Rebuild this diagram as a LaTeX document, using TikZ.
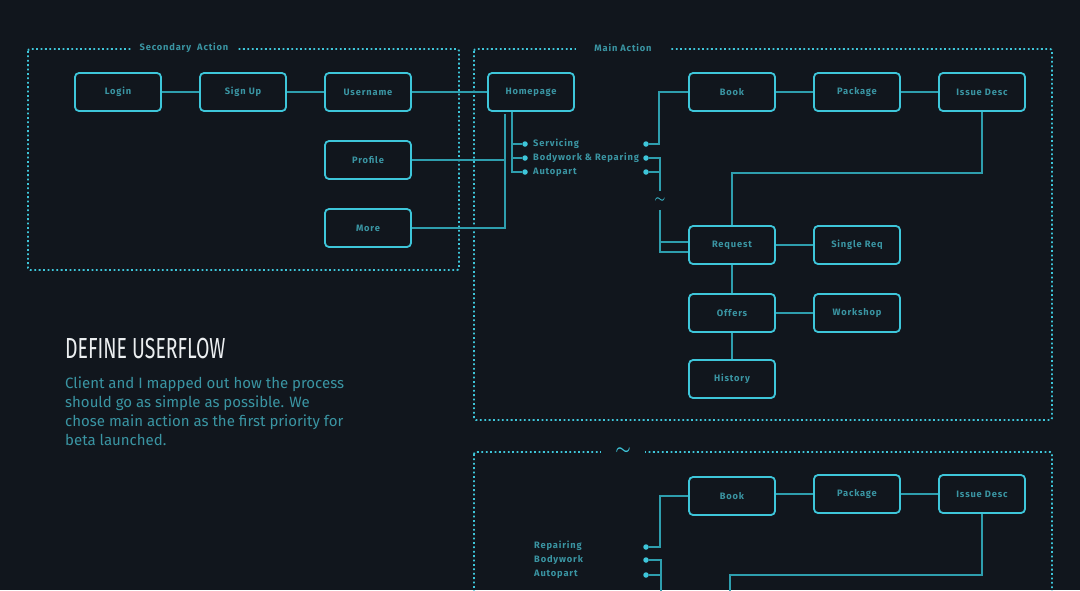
\documentclass[tikz,border=0pt]{standalone}
\usepackage{amsmath}
\usepackage{fontspec}
\setmainfont{Fira Sans}
\newfontfamily\boxfont[LetterSpace=9]{Fira Sans}
\usetikzlibrary{calc}
\definecolor{bg}{HTML}{11161D}
\definecolor{boxcyan}{HTML}{3EC6DA}
\definecolor{wire}{HTML}{2E9EAE}
\definecolor{dimteal}{HTML}{3A95A3}
\definecolor{paper}{HTML}{ECEFF1}
\newcommand{\boxtext}{\boxfont\bfseries\fontsize{9.3}{10}\selectfont}

\begin{document}
\begin{tikzpicture}
	[x=1pt,y=-1pt,
	 screen/.style={draw=boxcyan,line width=1.8pt,rounded corners=4pt,
		minimum width=86pt,minimum height=38pt,text=dimteal,font=\boxtext},
	 link/.style={wire,line width=1.3pt},
	 frame/.style={boxcyan,line width=1.8pt,dash pattern=on 1.8pt off 2.6pt,rounded corners=2pt},
	 framelabel/.style={fill=bg,text=dimteal,inner xsep=9pt,font=\boxtext},
	 knob/.style={circle,fill=boxcyan,inner sep=0pt,minimum size=5.5pt},
	 choice/.style={anchor=west,inner sep=0pt,text=dimteal,font=\boxtext}]
	\fill[bg] (0,0) rectangle (1080,590);
	\clip (0,0) rectangle (1080,590);

	% dotted frames
	\draw[frame] (28,49) rectangle (459,270);
	\node[framelabel] (secondary) at (184,48) {Secondary\ \ Action};
	\draw[frame] (474,49) rectangle (1052,420);
	\node[framelabel,inner xsep=18pt] (mainact) at (623,48) {Main Action};
	\draw[frame] (474,452) rectangle (1052,640);
	\node[framelabel,text=boxcyan,font=\LARGE,inner xsep=14pt] (cont) at (623,451) {$\boldsymbol{\sim}$};

	%
	% secondary action
	%
	\node[screen] (login) at (118,92) {Login};
	\node[screen] (signup) at (243,92) {Sign Up};
	\node[screen] (username) at (368,92) {Username};
	\node[screen] (profile) at (368,160) {Profile};
	\node[screen] (more) at (368,228) {More};

	\draw[link] (login) -- (signup);
	\draw[link] (signup) -- (username);

	%
	% main action
	%
	\node[screen] (home) at (531,92) {Homepage};
	\node[screen] (book) at (732,92) {Book};
	\node[screen] (package) at (857,92) {Package};
	\node[screen] (issue) at (982,92) {Issue Desc};
	\node[screen] (request) at (732,245) {Request};
	\node[screen] (single) at (857,245) {Single Req};
	\node[screen] (offers) at (732,313) {Offers};
	\node[screen] (workshop) at (857,313) {Workshop};
	\node[screen] (history) at (732,379) {History};

	% services list
	\node[knob] (s1) at (525,144) {};
	\node[knob] (s2) at (525,158) {};
	\node[knob] (s3) at (525,172) {};
	\node[choice] (servicing) at (533,144) {Servicing};
	\node[choice] (bodywork) at (533,158) {Bodywork \& Reparing};
	\node[choice] (autopart) at (533,172) {Autopart};
	\node[knob] (r1) at (646,144) {};
	\node[knob] (r2) at (646,158) {};
	\node[knob] (r3) at (646,172) {};
	\node[text=boxcyan,font=\large] (gap) at (660,200) {$\boldsymbol{\sim}$};
	\coordinate (hub) at (505,114);
	\coordinate (stem) at ([xshift=-19pt]home.south);
	\coordinate (gapA) at (660,191);
	\coordinate (gapB) at (660,210);

	% connectors
	\draw[link] (username) -- (home);
	\draw[link] (hub) |- (more);
	\draw[link] (profile) -- (profile -| hub);
	\draw[link] (stem) |- (s3);
	\foreach \s in {s1,s2}
		\draw[link] (stem |- \s) -- (\s);
	\draw[link] (r1) -| ([xshift=-29pt]book.west) -- (book);
	\draw[link] (r2) -| (gapA);
	\draw[link] (r3) -- (r3 -| gapA);
	\draw[link] (gapB) |- ([yshift=-7pt]request.west);
	\draw[link] ([yshift=3pt]request.west) -- ([yshift=3pt]request.west -| gapB);
	\draw[link] (book) -- (package);
	\draw[link] (package) -- (issue);
	\draw[link] (issue.south) -- ++(0,-61pt) -| (request.north);
	\draw[link] (request) -- (single);
	\draw[link] (request) -- (offers);
	\draw[link] (offers) -- (workshop);
	\draw[link] (offers) -- (history);

	%
	% second flow (cut off)
	%
	\node[screen] (book2) at (732,496) {Book};
	\node[screen] (package2) at (857,494) {Package};
	\node[screen] (issue2) at (982,494) {Issue Desc};
	\node[knob] (q1) at (646,547) {};
	\node[knob] (q2) at (646,560) {};
	\node[knob] (q3) at (646,575) {};
	\node[choice] (repairing2) at (534,546) {Repairing};
	\node[choice] (bodywork2) at (534,560) {Bodywork};
	\node[choice] (autopart2) at (534,574) {Autopart};
	\coordinate (cutA) at (661,600);
	\coordinate (cutB) at (730,600);

	\draw[link] (q1) -| ([xshift=-28pt]book2.west) -- (book2);
	\draw[link] (q2) -| (cutA);
	\draw[link] (q3) -- (q3 -| cutA);
	\draw[link] (package2.west -| book2.east) -- (package2);
	\draw[link] (package2) -- (issue2);
	\draw[link] (issue2.south) -- ++(0,-61pt) -| (cutB);

	%
	% caption
	%
	\node[anchor=base west,inner sep=0pt,text=paper] (title) at (65,358)
		{\scalebox{0.67}[1]{\fontsize{29}{29}\selectfont DEFINE USERFLOW}};
	\node[anchor=north west,inner sep=0pt,text=dimteal,align=left,
		font=\fontsize{15}{19}\selectfont] (about) at (65,377)
		{Client and I mapped out how the process\\
		 should go as simple as possible. We\\
		 chose main action as the first priority for\\
		 beta launched.};
\end{tikzpicture}
\end{document}
